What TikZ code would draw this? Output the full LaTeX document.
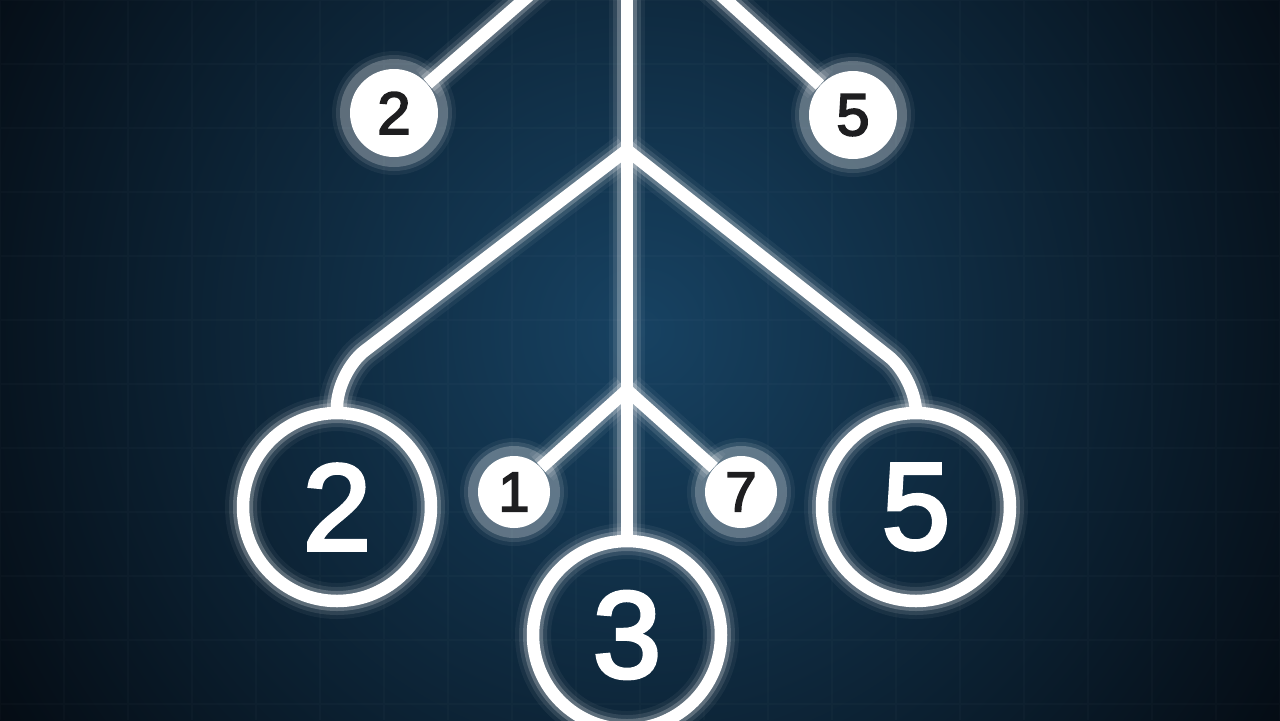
\documentclass[tikz,border=0pt]{standalone}
\usepackage{fontspec}
\setmainfont{Liberation Sans}
\newfontfamily\digitfont[FakeBold=3]{Liberation Sans}
\usetikzlibrary{positioning}
\definecolor{bgInner}{RGB}{23,66,98}
\definecolor{bgOuter}{RGB}{2,5,10}
\definecolor{digitDark}{RGB}{30,30,32}

\begin{document}
\begin{tikzpicture}[%
	x=0.1mm,y=-0.1mm,
	glow/.style={
		preaction={draw=white,draw opacity=.05,line width=3.6mm},
		preaction={draw=white,draw opacity=.10,line width=2.8mm},
		preaction={draw=white,draw opacity=.22,line width=2.0mm},
	},
	branch/.style={draw=white,line width=1.25mm,rounded corners=3.5mm,glow},
	bigball/.style={
		circle,draw=white,line width=1.25mm,minimum size=18.8mm,inner sep=0pt,
		text=white,font=\digitfont\fontsize{35}{35}\selectfont,glow,
	},
	topball/.style={
		circle,fill=white,minimum size=8.8mm,inner sep=0pt,
		text=digitDark,font=\digitfont\fontsize{17}{17}\selectfont,glow,
	},
	lowball/.style={topball,minimum size=7.2mm,font=\digitfont\fontsize{16}{16}\selectfont},
	]
	\useasboundingbox (0,0) rectangle (1280,720);
	
	% draw background
	\fill[bgOuter] (0,0) rectangle (1280,720);
	\begin{scope}
		\clip (0,0) rectangle (1280,720);
		\shade[inner color=bgInner,outer color=bgOuter] (640,330) circle (850);
		\draw[white,opacity=.018,step=6.4mm] (0,0) grid (1280,720);
		
		% place the numbers
		\node[topball] (topTwo) at (394,113) {2};
		\node[topball] (topFive) at (853,115) {5};
		\node[bigball] (bigTwo) at (337,507) {2};
		\node[bigball] (bigFive) at (916,507) {5};
		\node[bigball] (bigThree) at (627,635) {3};
		\node[lowball] (one) at (514,492) {1};
		\node[lowball] (seven) at (741,492) {7};
		
		% branching points
		\coordinate (apex) at (627,-90);
		\coordinate (fork) at (627,150);
		\coordinate (knot) at (627,390);
		\coordinate (bendL) at (337,372);
		\coordinate (bendR) at (916,378);
		
		% draw the tree
		\draw[branch] (apex) -- (bigThree);
		\draw[branch] (apex) -- (topTwo);
		\draw[branch] (apex) -- (topFive);
		\draw[branch] (fork) -- (bendL) -- (bigTwo.north);
		\draw[branch] (fork) -- (bendR) -- (bigFive.north);
		\draw[branch] (knot) -- (one);
		\draw[branch] (knot) -- (seven);
	\end{scope}
\end{tikzpicture}
\end{document}
